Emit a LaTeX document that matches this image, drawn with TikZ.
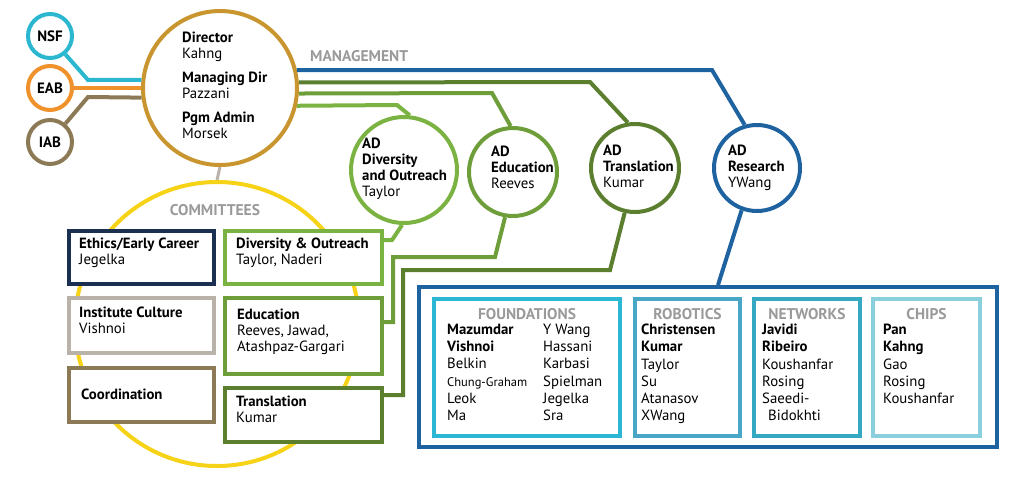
\documentclass[tikz,border=0pt]{standalone}
\usepackage{fontspec}
\setmainfont{PT Sans}
\usetikzlibrary{calc}
\definecolor{cNSF}{HTML}{2BB7D0}
\definecolor{cEAB}{HTML}{F0922B}
\definecolor{cIAB}{HTML}{8B7A55}
\definecolor{cDir}{HTML}{C8952E}
\definecolor{cLG}{HTML}{7BB342}
\definecolor{cG}{HTML}{6E9E3A}
\definecolor{cDG}{HTML}{5B7F2E}
\definecolor{cBlue}{HTML}{1E63A0}
\definecolor{cYel}{HTML}{F7D317}
\definecolor{cNavy}{HTML}{1B2F50}
\definecolor{cGray}{HTML}{B8B2A8}
\definecolor{cLab}{HTML}{9A9A9A}
\definecolor{cFo}{HTML}{2BB7D3}
\definecolor{cRo}{HTML}{4AA6C6}
\definecolor{cNe}{HTML}{35A9C2}
\definecolor{cCh}{HTML}{8ACFDC}
\tikzset{
 circ/.style={circle,draw=#1,line width=4pt,fill=white,inner sep=0pt},
 conn/.style={draw=#1,line width=4pt},
 box/.style={draw=#1,line width=4pt,fill=white,inner sep=0pt,anchor=north west},
 txt/.style={align=left,anchor=north west,inner sep=0pt,font=\fontsize{14.8}{16}\selectfont},
 hdr/.style={inner sep=0pt,font=\fontsize{15.5}{17}\selectfont\bfseries,text=cLab},
}
\begin{document}
\begin{tikzpicture}[x=1pt,y=-1pt]
\useasboundingbox (0,0) rectangle (1024,491);
% committees circle
\node[circle,draw=cYel,line width=4pt,minimum size=284pt,inner sep=0pt] (com) at (217,324) {};
% circles
\node[circ=cNSF,minimum size=44pt,font=\fontsize{15}{16}\selectfont\bfseries] (nsf) at (50,36) {NSF};
\node[circ=cEAB,minimum size=44pt,font=\fontsize{15}{16}\selectfont\bfseries] (eab) at (50,88) {EAB};
\node[circ=cIAB,minimum size=44pt,font=\fontsize{15}{16}\selectfont\bfseries] (iab) at (50,142) {IAB};
\node[circ=cDir,minimum size=154pt] (dir) at (220,88) {};
\draw[line width=3pt,cGray] (dir.south) -- (com.north);
\node[circ=cLG,minimum size=106pt] (adD) at (404,170) {};
\node[circ=cG,minimum size=88pt] (adE) at (513,172) {};
\node[circ=cDG,minimum size=88pt] (adT) at (635,168) {};
\node[circ=cBlue,minimum size=86pt] (adR) at (757,168) {};
\node[txt] (dirt) at (182,32) {\textbf{Director}\\Kahng\\[8pt]\textbf{Managing Dir}\\Pazzani\\[8pt]\textbf{Pgm Admin}\\Morsek};
\node[txt] (adDt) at (362,138) {\textbf{AD}\\\textbf{Diversity}\\\textbf{and Outreach}\\Taylor};
\node[txt] (adEt) at (491,146) {\textbf{AD}\\\textbf{Education}\\Reeves};
\node[txt] (adTt) at (603,145) {\textbf{AD}\\\textbf{Translation}\\Kumar};
\node[txt] (adRt) at (728,145) {\textbf{AD}\\\textbf{Research}\\YWang};
\node[hdr,anchor=west] (mgmt) at (310,56) {MANAGEMENT};
\node[hdr] (comt) at (215,210) {COMMITTEES};
% left connectors
\draw[conn=cNSF] (nsf.-50) -- (88,80) -- (dir.174);
\draw[conn=cEAB] (eab.east) -- (dir.180);
\draw[conn=cIAB] (iab.50) -- (88,97) -- (dir.187);
% management connectors
\draw[conn=cBlue] (dir.13) -- (712,70) -- (adR.106);
\draw[conn=cDG] (dir.4) -- (590,82) -- (adT.99);
\draw[conn=cG] (dir.-4) -- (492,93) -- (adE.93);
\draw[conn=cLG] (dir.-13) -- (397,105) -- (adD.84);
% committee boxes
\node[box=cNavy,minimum width=145pt,minimum height=53pt] (eth) at (67,229) {};
\node[txt] at (79,238) {\textbf{Ethics/Early Career}\\Jegelka};
\node[box=cGray,minimum width=145pt,minimum height=55pt] (inst) at (67,296) {};
\node[txt] at (79,307) {\textbf{Institute Culture}\\Vishnoi};
\node[box=cIAB,minimum width=145pt,minimum height=54pt] (coord) at (67,366) {};
\node[txt,anchor=west] at (81,394) {\textbf{Coordination}};
\node[box=cLG,minimum width=157pt,minimum height=53pt] (dbox) at (223,229) {};
\node[txt] at (236,238) {\textbf{Diversity \& Outreach}\\Taylor, Naderi};
\node[box=cG,minimum width=157pt,minimum height=76pt] (ebox) at (223,296) {};
\node[txt] at (237,309) {\textbf{Education}\\Reeves, Jawad,\\Atashpaz-Gargari};
\node[box=cDG,minimum width=157pt,minimum height=54pt] (tbox) at (223,386) {};
\node[txt] at (236,396) {\textbf{Translation}\\Kumar};
\draw[conn=cLG] (dbox.east |- 0,240) -- (392,240) -- (adD.-92);
\draw[conn=cG] (ebox.east |- 0,322) -- (393,322) -- (393,257) -- (495,257) -- (adE.-100);
\draw[conn=cDG] (tbox.east |- 0,395) -- (403,395) -- (403,270) -- (610,270) -- (adT.-103);
% research
\node[box=cBlue,minimum width=578pt,minimum height=160pt] (rbox) at (417,285) {};
\draw[conn=cBlue] (718,285) -- (adR.-110);
\node[box=cFo,minimum width=186pt,minimum height=137pt] (fo) at (432,297) {};
\node[box=cRo,minimum width=105pt,minimum height=137pt] (ro) at (633,297) {};
\node[box=cNe,minimum width=106pt,minimum height=137pt] (ne) at (752,297) {};
\node[box=cCh,minimum width=107pt,minimum height=137pt] (ch) at (871,297) {};
\node[hdr] at (fo.north |- 0,314) {FOUNDATIONS};
\node[hdr] at (ro.north |- 0,314) {ROBOTICS};
\node[hdr] at (ne.north |- 0,314) {NETWORKS};
\node[hdr] at (ch.north |- 0,314) {CHIPS};
\tikzset{lst/.style={txt,font=\fontsize{14.8}{17.2}\selectfont}}
\node[lst] at (447,324) {\textbf{Mazumdar}\\\textbf{Vishnoi}\\Belkin\\{\fontsize{12.5}{17.2}\selectfont Chung-Graham}\\Leok\\Ma};
\node[lst] at (543,324) {Y Wang\\Hassani\\Karbasi\\Spielman\\Jegelka\\Sra};
\node[lst] at (641,324) {\textbf{Christensen}\\\textbf{Kumar}\\Taylor\\Su\\Atanasov\\XWang};
\node[lst] at (762,324) {\textbf{Javidi}\\\textbf{Ribeiro}\\Koushanfar\\Rosing\\Saeedi-\\\hspace*{6pt}Bidokhti};
\node[lst] at (883,324) {\textbf{Pan}\\\textbf{Kahng}\\Gao\\Rosing\\Koushanfar};
\end{tikzpicture}
\end{document}
